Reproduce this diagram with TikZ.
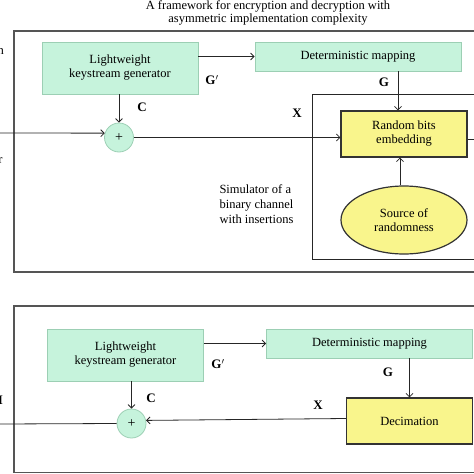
\documentclass[tikz,border=0pt]{standalone}
\usepackage{amsmath}
\usepackage{fontspec}
\setmainfont{Liberation Serif}
\usetikzlibrary{arrows.meta,positioning,shapes.geometric}
\definecolor{mint}{HTML}{C6F3DC}
\definecolor{mintline}{HTML}{9CCFB4}
\definecolor{lemon}{HTML}{F9F58C}
\definecolor{frame}{HTML}{555555}

\begin{document}
\begin{tikzpicture}[
          x=1pt, y=-1pt,
          font=\fontsize{12.5}{14}\selectfont,
          keybox/.style = {draw=mintline, fill=mint, thick, minimum width=156pt, minimum height=52pt, align=center, inner sep=2pt},
          mapbox/.style = {draw=mintline, fill=mint, thick, minimum width=206pt, minimum height=29pt, align=center, inner sep=2pt},
          yelbox/.style = {draw=black!80, fill=lemon, line width=1.2pt, minimum width=126pt, minimum height=46pt, align=center, inner sep=2pt},
          sumnode/.style = {circle, draw=mintline, fill=mint, thick, minimum size=29pt, inner sep=0pt, font=\fontsize{14}{14}\selectfont},
          lbl/.style  = {font=\fontsize{13}{14}\selectfont\bfseries, inner sep=1pt},
          wire/.style = {line width=0.8pt, black!85},
          arw/.style  = {wire, -{Straight Barb[length=3.5pt,width=7pt]}},
          boxline/.style = {line width=1.2pt, frame}
        ]
        \clip (0,0) rectangle (474,474);

        % --- title
        \node[align=center, font=\fontsize{12.5}{13.5}\selectfont] (title) at (268,13)
          {A framework for encryption and decryption with\\asymmetric implementation complexity};

        % --- frames
        \draw[boxline] (14,31) rectangle (490,272);
        \draw[boxline] (14,306) rectangle (490,472.6);
        \draw[wire, line width=1pt] (312,94) rectangle (490,259);

        % --- clipped side labels
        \node[anchor=east] (inTxt)  at (7.5,52)  {n};
        \node[anchor=east] (keyTxt) at (6,161)   {r};
        \node[lbl, anchor=east] (outTxt) at (4,400) {M};

        % --- top: encryption blocks
        \node[keybox]  (lkgA) at (120,68)  {Lightweight\\keystream generator};
        \node[mapbox]  (dmA)  at (358,56.5) {Deterministic mapping};
        \node[yelbox]  (rbe)  at (404,134) {Random bits\\embedding};
        \node[ellipse, draw=black!80, fill=lemon, line width=1.2pt, minimum width=126pt, minimum height=68pt, align=center]
                       (src)  at (404,220) {Source of\\randomness};
        \node[sumnode] (plusA) at (119,137.5) {+};
        \node[align=left, anchor=west, font=\fontsize{12.5}{14.8}\selectfont]
                       (sim)  at (216,204) {Simulator of a\\binary channel\\with insertions};

        \node[lbl] (GpA) at (212,80)  {$\mathbf{G}'$};
        \node[lbl] (GA)  at (384,82)  {G};
        \node[lbl] (CA)  at (142,107) {C};
        \node[lbl] (XA)  at (297,113) {X};

        \coordinate (inA)  at (0,133);
        \coordinate (outA) at (490,139);

        % --- top: wiring
        \draw[arw] (lkgA.east |- dmA.west) -- (dmA.west);
        \draw[arw] (lkgA.south -| plusA.north) -- (plusA.north);
        \draw[arw] (inA) -- (plusA.163);
        \draw[arw] (plusA.east) -- (plusA.east -| rbe.west);
        \draw[arw] ([xshift=-6pt]rbe.north |- dmA.south) -- ([xshift=-6pt]rbe.north);
        \draw[arw] ([xshift=-4pt]src.north) -- ([xshift=-4pt]rbe.south);
        \draw[wire] (rbe.east |- outA) -- (outA);

        % --- bottom: decryption blocks
        \node[keybox]  (lkgB) at (125.5,355)   {Lightweight\\keystream generator};
        \node[mapbox]  (dmB)  at (369.5,343.5) {Deterministic mapping};
        \node[yelbox]  (dec)  at (409.5,421)   {Decimation};
        \node[sumnode] (plusB) at (131.5,423.5) {+};

        \node[lbl] (GpB) at (218,364) {$\mathbf{G}'$};
        \node[lbl] (GB)  at (388,372) {G};
        \node[lbl] (CB)  at (151,398) {C};
        \node[lbl] (XB)  at (318,405) {X};

        \coordinate (outB) at (0,424);

        % --- bottom: wiring
        \draw[arw] (lkgB.east |- dmB.west) -- (dmB.west);
        \draw[arw] (lkgB.south -| plusB.north) -- (plusB.north);
        \draw[arw] (dmB.south -| dec.north) -- (dec.north);
        \draw[arw] ([yshift=2.5pt]dec.west) -- (plusB.12);
        \draw[wire] (plusB.west) -- (outB);
    \end{tikzpicture}
\end{document}
